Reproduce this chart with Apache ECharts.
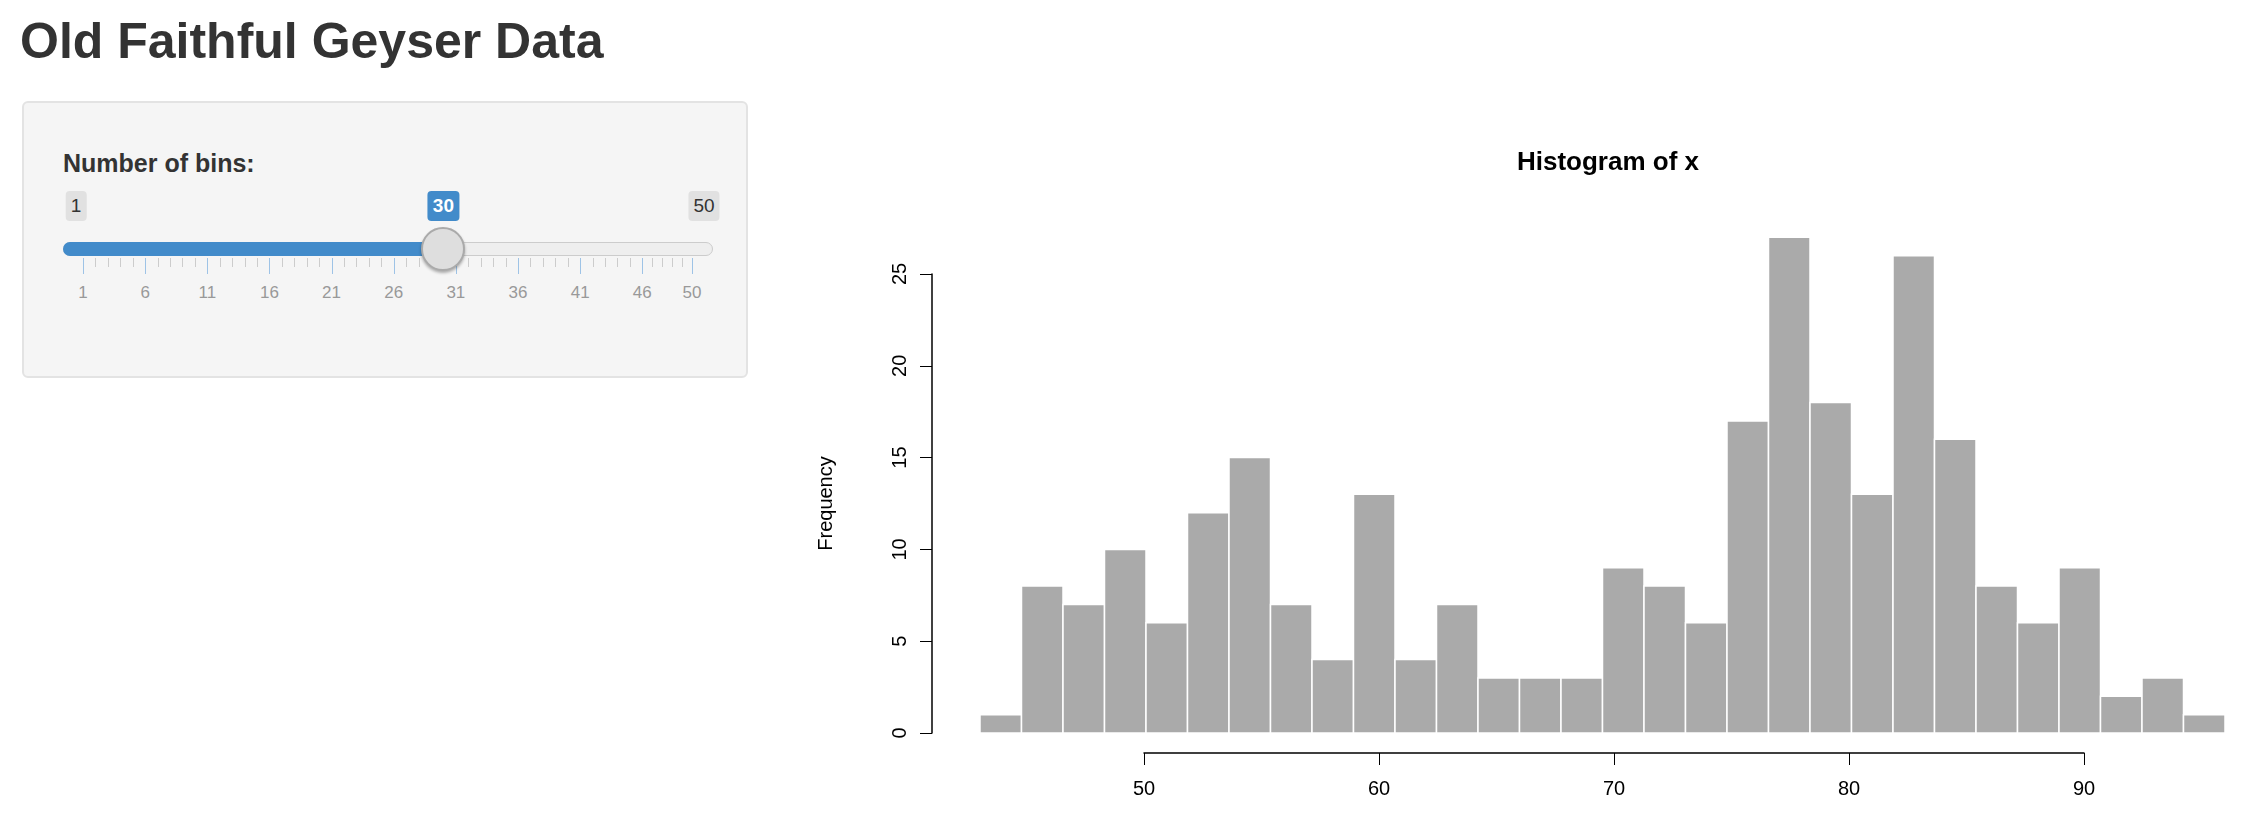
<!DOCTYPE html>
<html>
<head>
<meta charset="utf-8">
<script src="https://cdn.jsdelivr.net/npm/echarts@6/dist/echarts.min.js"></script>
<style>
  html, body { margin: 0; padding: 0; background: #fff; font-family: "Liberation Sans", Arial, sans-serif; color: #333; }
  #chart { position: absolute; left: 0; top: 0; width: 2262px; height: 838px; }
  h2 { position: absolute; left: 20px; top: 12px; margin: 0; font-size: 50px; font-weight: bold; color: #333; }
  .well { position: absolute; left: 22px; top: 101px; width: 726px; height: 277px; background: #f5f5f5; border: 2px solid #e3e3e3; border-radius: 6px; box-sizing: border-box; }
  .lbl { position: absolute; left: 39px; top: 46px; font-size: 25px; font-weight: bold; }
  .track { position: absolute; left: 39px; top: 139px; width: 650px; height: 14px; border-radius: 7px; background: #eee; border: 1px solid #ccc; box-sizing: border-box; }
  .fill { position: absolute; left: 39px; top: 139px; height: 14px; border-radius: 7px 0 0 7px; background: #428bca; }
  .handle { position: absolute; top: 124px; width: 44px; height: 44px; margin-left: -22px; border-radius: 50%; background: #dedede; border: 2px solid #aaa; box-sizing: border-box; box-shadow: 0 2px 3px rgba(0,0,0,0.3); }
  .box { position: absolute; top: 88px; height: 30px; line-height: 30px; padding: 0 5px; font-size: 19px; border-radius: 4px; background: #e1e1e1; color: #333; transform: translateX(-50%); }
  .box.cur { background: #428bca; color: #fff; font-weight: bold; }
  .tick { position: absolute; top: 155px; width: 1px; }
  .glab { position: absolute; top: 180px; font-size: 17px; color: #999; transform: translateX(-50%); }
</style>
</head>
<body>
<div id="chart"></div>
<h2>Old Faithful Geyser Data</h2>
<div class="well" id="well">
  <div class="lbl">Number of bins:</div>
  <div class="track"></div>
</div>
<script>
// histogram of faithful$waiting, 30 bins
var binStart = 43;
var binWidth = 53 / 30;
var counts = [1, 8, 7, 10, 6, 12, 15, 7, 4, 13, 4, 7, 3, 3, 3, 9, 8, 6, 17, 27, 18, 13, 26, 16, 8, 6, 9, 2, 3, 1];
var xTicks = [50, 60, 70, 80, 90];
var yTicks = [0, 5, 10, 15, 20, 25];

// slider
var sliderMin = 1, sliderMax = 50, sliderValue = 30;
var sliderLabels = [1, 6, 11, 16, 21, 26, 31, 36, 41, 46, 50];

var well = document.getElementById('well');
var p0 = 59, p1 = 668; // pixel positions of min and max inside the well
function pos(v) { return p0 + (v - sliderMin) / (sliderMax - sliderMin) * (p1 - p0); }
function add(cls, css, text) {
  var d = document.createElement('div');
  d.className = cls;
  for (var k in css) d.style[k] = css[k];
  if (text !== undefined) d.textContent = text;
  well.appendChild(d);
  return d;
}
add('fill', { width: (pos(sliderValue) - 39) + 'px' });
sliderLabels.forEach(function (v, i) {
  add('tick', { left: pos(v) + 'px', height: '16px', background: '#9ec3e6' });
  add('glab', { left: pos(v) + 'px' }, v);
  if (i < sliderLabels.length - 1) {
    var next = sliderLabels[i + 1];
    for (var j = 1; j < 5; j++) {
      var m = v + (next - v) * j / 5;
      add('tick', { left: pos(m) + 'px', height: '9px', background: '#ccc' });
    }
  }
});
add('handle', { left: pos(sliderValue) + 'px' });
add('box', { left: (pos(sliderMin) - 7) + 'px' }, sliderMin);
add('box', { left: (pos(sliderMax) + 12) + 'px' }, sliderMax);
add('box cur', { left: pos(sliderValue) + 'px' }, sliderValue);

var bars = counts.map(function (c, i) {
  return [binStart + i * binWidth, binStart + (i + 1) * binWidth, c];
});

var chart = echarts.init(document.getElementById('chart'));
var axisFont = { color: '#000', fontSize: 20, fontFamily: 'Liberation Sans' };
chart.setOption({
  animation: false,
  title: {
    text: 'Histogram of x',
    left: 1603, top: 145, textAlign: 'center',
    textStyle: { fontSize: 26, fontWeight: 'bold', color: '#000', fontFamily: 'Liberation Sans' }
  },
  grid: [
    // data grid: y 0..28 with the same scale as the visible 0..25 axis
    { left: 980, width: 1245, top: 733 - 28 * (459 / 25), height: 28 * (459 / 25) },
    // visible y axis
    { left: 932, width: 10, top: 274, height: 459 },
    // visible x axis
    { left: 1144, width: 940, top: 653, height: 100 }
  ],
  xAxis: [
    { gridIndex: 0, type: 'value', min: 43, max: 96, show: false },
    { gridIndex: 1, type: 'value', min: 0, max: 1, show: false },
    {
      gridIndex: 2, type: 'value', min: 50, max: 90, interval: 10,
      axisLine: { show: true, lineStyle: { color: '#000', width: 1.5 } },
      axisTick: { show: true, length: 12, lineStyle: { color: '#000' } },
      axisLabel: Object.assign({ margin: 26 }, axisFont),
      splitLine: { show: false }
    }
  ],
  yAxis: [
    { gridIndex: 0, type: 'value', min: 0, max: 28, show: false },
    {
      gridIndex: 1, type: 'value', min: 0, max: 25, interval: 5,
      name: 'Frequency', nameLocation: 'middle', nameGap: 96, nameRotate: 90,
      nameTextStyle: axisFont,
      axisLine: { show: true, lineStyle: { color: '#000', width: 1.5 } },
      axisTick: { show: true, length: 12, lineStyle: { color: '#000' } },
      axisLabel: Object.assign({ rotate: 90, margin: 22 }, axisFont),
      splitLine: { show: false }
    },
    { gridIndex: 2, type: 'value', min: 0, max: 1, show: false }
  ],
  series: [{
    type: 'custom',
    xAxisIndex: 0, yAxisIndex: 0,
    data: bars,
    renderItem: function (params, api) {
      var a = api.coord([api.value(0), api.value(2)]);
      var b = api.coord([api.value(1), 0]);
      return {
        type: 'rect',
        shape: { x: a[0], y: a[1], width: b[0] - a[0], height: b[1] - a[1] },
        style: { fill: '#aaaaaa', stroke: '#ffffff', lineWidth: 1.5 }
      };
    }
  }]
});
</script>
</body>
</html>
